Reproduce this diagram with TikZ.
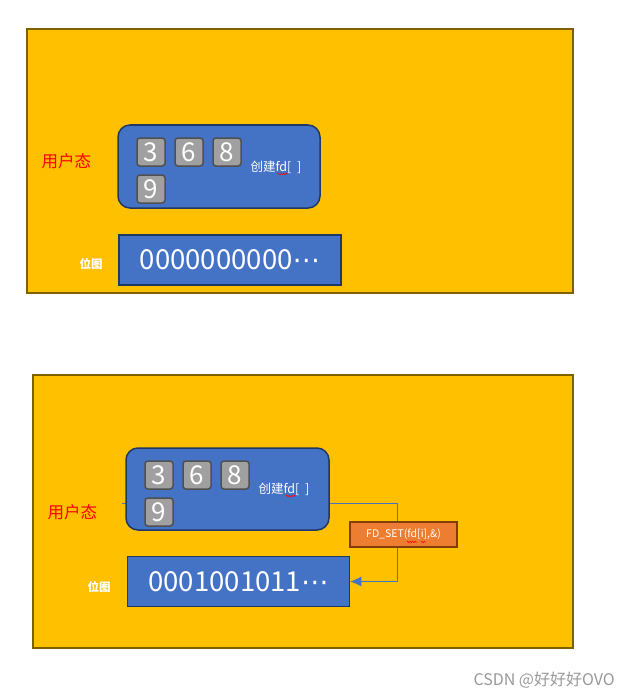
\documentclass[tikz,border=0pt]{standalone}
\usepackage{fontspec}
\setmainfont{Noto Sans CJK SC}
\newfontfamily\dotsfont{DejaVu Sans}
\usetikzlibrary{arrows.meta,decorations.pathmorphing}

\definecolor{panelfill}{HTML}{FFC000}
\definecolor{paneledge}{HTML}{7F6000}
\definecolor{boxfill}{HTML}{4472C4}
\definecolor{boxedge}{HTML}{1F3864}
\definecolor{keyfill}{HTML}{A0A0A0}
\definecolor{keyedge}{HTML}{505050}
\definecolor{setfill}{HTML}{ED7D31}
\definecolor{setedge}{HTML}{843C0C}

\tikzset{
  panel/.style={draw=paneledge, fill=panelfill, line width=1.5pt},
  fdbox/.style={draw=boxedge, fill=boxfill, line width=1.5pt, rounded corners=12pt},
  numkey/.style={draw=keyedge, fill=keyfill, line width=1.5pt, rounded corners=3pt,
    minimum size=28pt, inner sep=0pt, text=white, font=\fontsize{26}{26}\selectfont},
  bitmap/.style={draw=boxedge, fill=boxfill, line width=1.5pt, minimum width=222pt,
    minimum height=50pt, inner sep=0pt, text=white, font=\fontsize{27.5}{27.5}\selectfont},
  setbox/.style={draw=setedge, fill=setfill, line width=1.5pt, minimum width=107pt,
    minimum height=25pt, inner sep=0pt, text=white, font=\fontsize{10.5}{10.5}\selectfont},
  fdlabel/.style={anchor=west, text=white, font=\fontsize{12.5}{12.5}\selectfont},
  userlabel/.style={anchor=west, text=red, font=\fontsize{16.5}{16.5}\selectfont},
  bitlabel/.style={anchor=west, text=white, font=\bfseries\fontsize{11.5}{11.5}\selectfont},
  typo/.style={red, line width=0.5pt, decorate, decoration={snake, amplitude=0.8pt, segment length=2.5pt}},
  link/.style={draw=boxfill, line width=0.8pt, -{Latex[length=11pt,width=10pt]}}
}

\begin{document}
\begin{tikzpicture}[x=1pt, y=-1pt]
  \useasboundingbox[fill=white] (0,0) rectangle (639,698);

  %Before FD_SET
  \draw[panel] (27,29) rectangle (573,293);
  \node[userlabel] (user1) at (38,161) {用户态};
  \draw[fdbox] (118,125) rectangle (320,208);
  \foreach \n/\x/\y in {3/151/152, 6/189/152, 8/227/152, 9/151/189}
    \node[numkey] (key1-\n) at (\x,\y) {\n};
  \node[fdlabel] (fd1) at (247,167) {创建fd[\ \ ]};
  \draw[typo] (278,174) -- (288,174);
  \node[bitlabel] (bitname1) at (76,264) {位图};
  \node[bitmap] (bits1) at (230,260) {0000000000{\dotsfont ⋯}};

  %After FD_SET
  \draw[panel] (33,375) rectangle (573,648);
  \node[userlabel] (user2) at (44,512) {用户态};
  \node[bitlabel] (bitname2) at (84,587) {位图};
  \node[bitmap] (bits2) at (238.5,581.5) {0001001011{\dotsfont ⋯}};
  \coordinate (tap) at (122,503);
  \draw[link] (tap) -- ++(275,0) |- (bits2.east);
  \draw[fdbox] (126,448) rectangle (329,530);
  \foreach \n/\x/\y in {3/159/475, 6/197/475, 8/235/475, 9/159/512}
    \node[numkey] (key2-\n) at (\x,\y) {\n};
  \node[fdlabel] (fd2) at (255,489) {创建fd[\ \ ]};
  \draw[typo] (286,496) -- (296,496);
  \node[setbox] (set) at (403.5,534.5) {FD\_SET(fd[i],\&)};
  \draw[typo] (407,542) -- (417,542);
  \draw[typo] (421,542) -- (426,542);

  \node[anchor=west, text=black!40, font=\fontsize{16}{16}\selectfont] (mark) at (470,680) {CSDN @好好好OVO};
\end{tikzpicture}
\end{document}
